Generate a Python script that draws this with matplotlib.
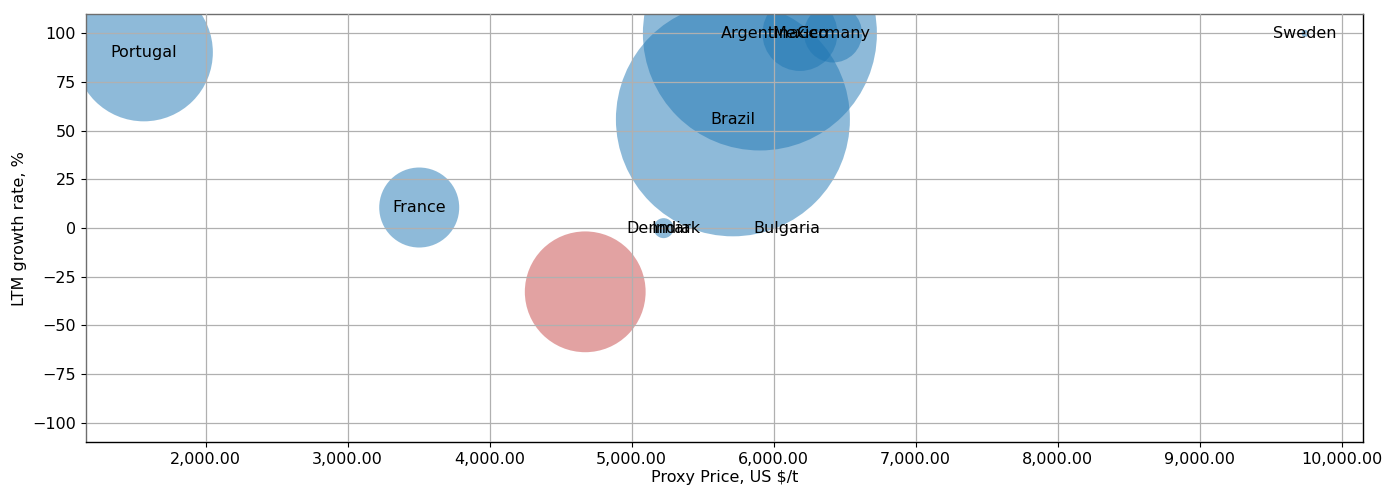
import matplotlib
matplotlib.use("Agg")
import matplotlib.pyplot as plt
from matplotlib.ticker import FuncFormatter, MultipleLocator

# Data
countries = ["Portugal", "France", "", "India", "Denmark", "Bulgaria",
             "Brazil", "Argentina", "Mexico", "Germany", "Sweden"]
proxy_price = [1565, 3504, 4673, 5280, 5225, 6091, 5713, 5903, 6185, 6418, 9742]
growth_rate = [90.3, 10.6, -32.7, 0.0, 0.0, 0.0, 55.9, 100.0, 100.0, 100.0, 100.0]
bubble_size = [9870, 3318, 7565, 0, 207, 0, 28385, 28385, 2916, 1744, 25]

FS = 11.5
fig = plt.figure(figsize=(13.86, 4.86), dpi=100)
ax = fig.add_axes([0.062, 0.0899, 0.9214, 0.8813])

colors = ["#1f77b4" if g >= 0 else "#c74747" for g in growth_rate]
ax.scatter(proxy_price, growth_rate, s=bubble_size, c=colors, alpha=0.5,
           linewidths=0, zorder=2)

for name, x, y in zip(countries, proxy_price, growth_rate):
    if name:
        ax.text(x, y, name, ha="center", va="center", fontsize=FS,
                color="black", zorder=4)

ax.set_xlim(1157, 10150)
ax.set_ylim(-110, 110)
ax.xaxis.set_major_locator(MultipleLocator(1000))
ax.yaxis.set_major_locator(MultipleLocator(25))
ax.xaxis.set_major_formatter(FuncFormatter(lambda v, p: f"{v:,.2f}"))
ax.grid(True, color="#b0b0b0", linewidth=0.9, zorder=1)
ax.set_axisbelow(False)
ax.tick_params(labelsize=FS)
ax.set_xlabel("Proxy Price, US $/t", fontsize=FS, labelpad=2)
ax.set_ylabel("LTM growth rate, %", fontsize=FS)

ax.spines["top"].set_color("#6e6e6e")
ax.spines["left"].set_color("#6e6e6e")
for s in ax.spines.values():
    s.set_linewidth(1.0)

fig.savefig("out.png", dpi=100)
